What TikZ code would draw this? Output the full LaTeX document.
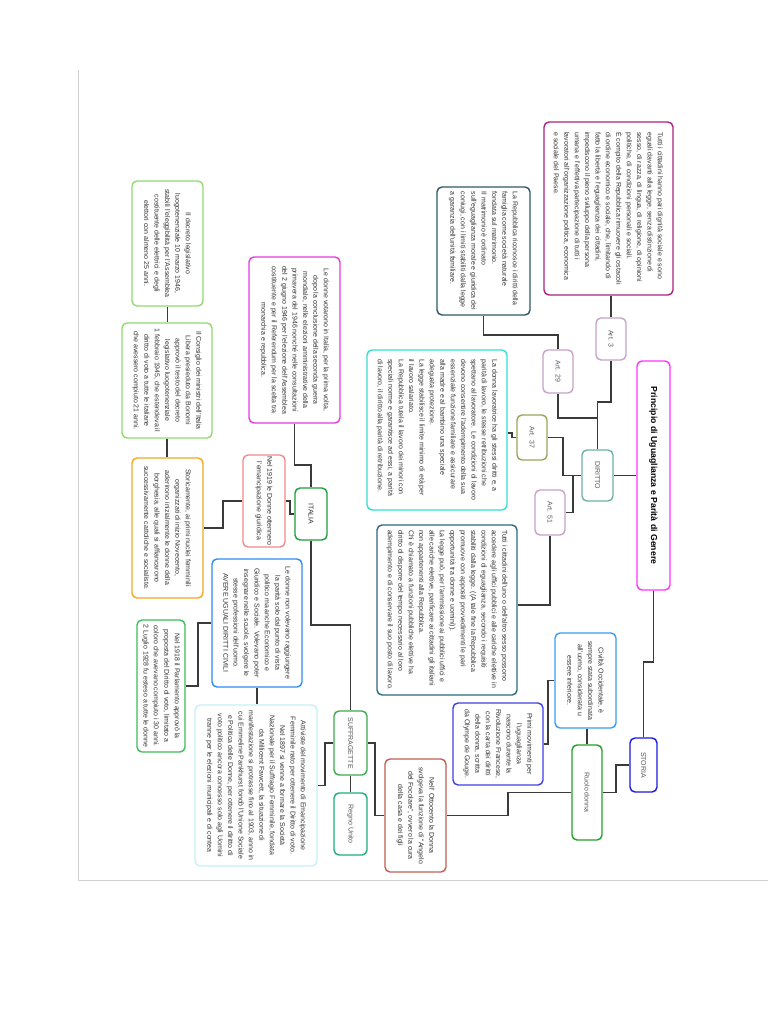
\documentclass[tikz,border=0pt]{standalone}
\usepackage{fontspec}
\setmainfont{Liberation Sans}
\definecolor{txtc}{HTML}{333333}
\definecolor{linec}{HTML}{3A3A3A}
\definecolor{cB3}{HTML}{A8237F}
\definecolor{cArt}{HTML}{C8A2C8}
\definecolor{cB29}{HTML}{2F5866}
\definecolor{cA37}{HTML}{9AA55A}
\definecolor{cB37}{HTML}{30E0D2}
\definecolor{cB51}{HTML}{2C6A7E}
\definecolor{cDir}{HTML}{6DB3A5}
\definecolor{cTit}{HTML}{FF33FF}
\definecolor{cB46}{HTML}{E23BE2}
\definecolor{cLg}{HTML}{8FDB6E}
\definecolor{cSt}{HTML}{F5A623}
\definecolor{cN19}{HTML}{F08A8A}
\definecolor{cIt}{HTML}{1E9E3A}
\definecolor{cBl}{HTML}{2D8CF0}
\definecolor{cN18}{HTML}{3DBE5A}
\definecolor{cAt}{HTML}{C6F0F8}
\definecolor{cSu}{HTML}{3DAA4D}
\definecolor{cRU}{HTML}{1DAE7E}
\definecolor{cNo}{HTML}{C0604E}
\definecolor{cPr}{HTML}{3F3FE0}
\definecolor{cCi}{HTML}{3A9BF5}
\definecolor{cRD}{HTML}{22A02A}
\definecolor{cSto}{HTML}{1A1AE6}
\begin{document}
\begin{tikzpicture}[x=1pt,y=-1pt,
  box/.style={draw=#1, line width=1.4pt, rounded corners=5pt, fill=white, rotate=-90,
    inner sep=0pt, font=\fontsize{7}{10.4}\selectfont, text=txtc, align=center},
  lbox/.style={box=#1, align=left},
  sz/.style n args={2}{minimum width=#1, minimum height=#2},
  tag/.style={box=#1, text=black!65},
  conn/.style={draw=linec, line width=1.2pt},
]
\useasboundingbox (0,0) rectangle (768,1024);
\fill[white] (0,0) rectangle (768,1024);
\draw[black!18, line width=1pt] (78,70) -- (78,880) -- (768,880);

% ---- title
\node[box=cTit, sz={229pt}{33pt}, font=\fontsize{8.7}{10}\selectfont\bfseries, text=black] (T) at (653.5,475.5) {Principio di Uguaglianza e Parità di Genere};

% ---- DIRITTO branch
\node[tag=cDir, sz={51pt}{31pt}] (D) at (597.5,475.5) {DIRITTO};
\node[tag=cArt, sz={42pt}{30pt}] (a3) at (611,339) {Art. 3};
\node[tag=cArt, sz={43pt}{30pt}] (a29) at (558,371.5) {Art. 29};
\node[tag=cA37, sz={45pt}{30pt}] (a37) at (532,437.5) {Art. 37};
\node[tag=cArt, sz={45pt}{30pt}] (a51) at (550,512.5) {Art. 51};

\node[lbox=cB3, sz={173pt}{129pt}] (b3) at (608.5,208.5) {Tutti i cittadini hanno pari dignità sociale e sono\\
eguali davanti alla legge, senza distinzione di\\
sesso, di razza, di lingua, di religione, di opinioni\\
politiche, di condizioni personali e sociali.\\
È compito della Repubblica rimuovere gli ostacoli\\
di ordine economico e sociale, che, limitando di\\
fatto la libertà e l'eguaglianza dei cittadini,\\
impediscono il pieno sviluppo della persona\\
umana e l'effettiva partecipazione di tutti i\\
lavoratori all'organizzazione politica, economica\\
e sociale del Paese.};

\node[lbox=cB29, sz={128pt}{93pt}] (b29) at (483.5,251) {La Repubblica riconosce i diritti della\\
famiglia come società naturale\\
fondata sul matrimonio.\\
Il matrimonio è ordinato\\
sull'eguaglianza morale e giuridica dei\\
coniugi, con i limiti stabiliti dalla legge\\
a garanzia dell'unità familiare.};

\node[lbox=cB37, sz={160pt}{140pt}] (b37) at (437,430) {La donna lavoratrice ha gli stessi diritti e, a\\
parità di lavoro, le stesse retribuzioni che\\
spettano al lavoratore. Le condizioni di lavoro\\
devono consentire l'adempimento della sua\\
essenziale funzione familiare e assicurare\\
alla madre e al bambino una speciale\\
adeguata protezione.\\
La legge stabilisce il limite minimo di età per\\
il lavoro salariato.\\
La Repubblica tutela il lavoro dei minori con\\
speciali norme e garantisce ad essi, a parità\\
di lavoro, il diritto alla parità di retribuzione.};

\node[lbox=cB51, sz={170pt}{140pt}] (b51) at (447,610) {Tutti i cittadini dell'uno o dell'altro sesso possono\\
accedere agli uffici pubblici e alle cariche elettive in\\
condizioni di eguaglianza, secondo i requisiti\\
stabiliti dalla legge. ((A tale fine la Repubblica\\
promuove con appositi provvedimenti le pari\\
opportunità tra donne e uomini)).\\
La legge può, per l'ammissione ai pubblici uffici e\\
alle cariche elettive, parificare ai cittadini gli italiani\\
non appartenenti alla Repubblica.\\
Chi è chiamato a funzioni pubbliche elettive ha\\
diritto di disporre del tempo necessario al loro\\
adempimento e di conservare il suo posto di lavoro.};

% ---- ITALIA branch
\node[box=cB46, sz={166pt}{91pt}] (b46) at (294.5,340) {Le donne votarono in Italia, per la prima volta,\\
dopo la conclusione della seconda guerra\\
mondiale, nelle elezioni amministrative della\\
primavera del 1946 nonché nelle consultazioni\\
del 2 giugno 1946 per l'elezione dell'Assemblea\\
costituente e per il Referendum per la scelta tra\\
monarchia e repubblica.};

\node[box=cLg, sz={125pt}{71pt}] (dec) at (167.5,243.5) {Il decreto legislativo\\
luogotenenziale 10 marzo 1946,\\
stabilì l'eleggibilità per l'Assemblea\\
costituente delle elettrici e degli\\
elettori con almeno 25 anni.};

\node[box=cLg, sz={115pt}{90pt}] (Co) at (167,380.5) {Il Consiglio dei ministri dell'Italia\\
Libera presieduto da Bonomi\\
approvò il testo del decreto\\
legislativo luogotenenziale\\
1 febbraio 1945, che estendeva il\\
diritto di voto a tutte le italiane\\
che avessero compiuto 21 anni.};

\node[box=cSt, sz={140pt}{71pt}] (St) at (167.5,528) {Storicamente, ai primi nuclei femminili\\
organizzati di inizio Novecento,\\
aderirono inizialmente le donne della\\
borghesia, alle quali si affiancarono\\
successivamente cattoliche e socialiste.};

\node[box=cN19, sz={92pt}{42pt}] (N19) at (264,501) {Nel 1919 le Donne ottennero\\
l'emancipazione giuridica};

\node[box=cIt, sz={52pt}{32pt}] (I) at (311,514) {ITALIA};

\node[box=cBl, sz={128pt}{90pt}] (Bl) at (257,623) {Le donne non volevano raggiungere\\
la parità solo dal punto di vista\\
politico ma anche Economico e\\
Giuridico e Sociale. Volevano poter\\
insegnare nelle scuole, svolgere le\\
stesse professioni dell'uomo.\\
AVERE UGUALI DIRITTI CIVILI};

\node[box=cN18, sz={132pt}{48pt}] (N18) at (161,686) {Nel 1918 il Parlamento approvò la\\
proposta del Diritto di voto, limitato a\\
coloro che avevano compiuto i 30 anni.\\
2 Luglio 1928 fu esteso a tutte le donne};

\node[box=cAt, sz={161pt}{122pt}] (At) at (256,785.5) {Attiviste del movimento di Emancipazione\\
Femminile nato per ottenere il Diritto di voto.\\
Nel 1897 si venne a formare la Società\\
Nazionale per il Suffragio Femminile, fondata\\
da Millicent Fawcett, la situazione di\\
manifestazione si protrasse fino al 1903, anno in\\
cui Emmeline Pankhurst fondò l'Unione Sociale\\
e Politica delle Donne, per ottenere il diritto di\\
voto politico ancora concesso solo agli Uomini\\
tranne per le elezioni municipali e di contea};

\node[tag=cSu, sz={64pt}{33pt}] (S) at (350.5,743) {SUFFRAGETTE};
\node[tag=cRU, sz={62pt}{33pt}] (RU) at (350.5,824) {Regno Unito};

% ---- STORIA branch
\node[box=cNo, sz={113pt}{61pt}] (No) at (415.5,815.5) {Nell' Ottocento la Donna\\
svolgeva la funzione di ``Angelo\\
del Focolare'', ovvero la cura\\
della casa e dei figli};

\node[box=cPr, sz={82pt}{90pt}] (P) at (498,744) {Primi movimenti per\\
l'uguaglianza\\
nascono durante la\\
Rivoluzione Francese,\\
con la carta dei diritti\\
della donna, scritta\\
da Olympe de Gouge.};

\node[box=cCi, sz={95pt}{61pt}] (C) at (585.5,680.5) {Civiltà Occidentale, è\\
sempre stata subordinata\\
all'uomo, considerata u\\
essere inferiore.};

\node[tag=cRD, sz={95pt}{30pt}] (RD) at (587,792.5) {Ruolo donna};
\node[tag=cSto, sz={54pt}{27pt}] (STO) at (643.5,765) {STORIA};

% ---- connectors
\draw[conn] (a3.west) -- (a3.west |- b3.east);
\draw[conn] (b29.east) -- (b29.east |- 0,335) -| (a29.west);
\draw[conn] (b37.north |- 0,433) -- (512,433) |- (a37.south);
\draw[conn] (b51.north |- 0,605) -| (a51.east);
\draw[conn] (D.west) -- (D.west |- 0,402) -| (a3.east);
\draw[conn] (a29.east) |- (D.west |- 0,418);
\draw[conn] (a37.north) -- (563,437.5) |- (D.south);
\draw[conn] (a51.north) -- (573,512.5) |- (D.south);
\draw[conn] (D.north) -- (D.north -| T.south);
\draw[conn] (T.east) -- (T.east |- 0,662) -| (STO.west);
\draw[conn] (STO.south) -- (616,765) |- (RD.north);
\draw[conn] (RD.west) -- (RD.west |- C.east);
\draw[conn] (P.north) -- (548,744) |- (C.south);
\draw[conn] (RD.south) -- (508,792.5) |- (No.north);
\draw[conn] (No.south) -- (375,815.5) |- (S.north);
\draw[conn] (S.east) -- (RU.west);
\draw[conn] (S.south) -- (325,743) |- (At.north);
\draw[conn] (Bl.east) -- (Bl.east |- At.west);
\draw[conn] (Bl.south) -- (198,623) |- (N18.north);
\draw[conn] (I.east) -- (I.east |- 0,625) -| (S.west);
\draw[conn] (b46.east) -- (b46.east |- 0,465) -| (I.west);
\draw[conn] (N19.north) -- (290,501) |- (I.south);
\draw[conn] (St.north) -- (223,528) |- (N19.south);
\draw[conn] (Co.east) -- (Co.east |- St.west);
\draw[conn] (dec.east) -- (dec.east |- Co.west);
\end{tikzpicture}
\end{document}
